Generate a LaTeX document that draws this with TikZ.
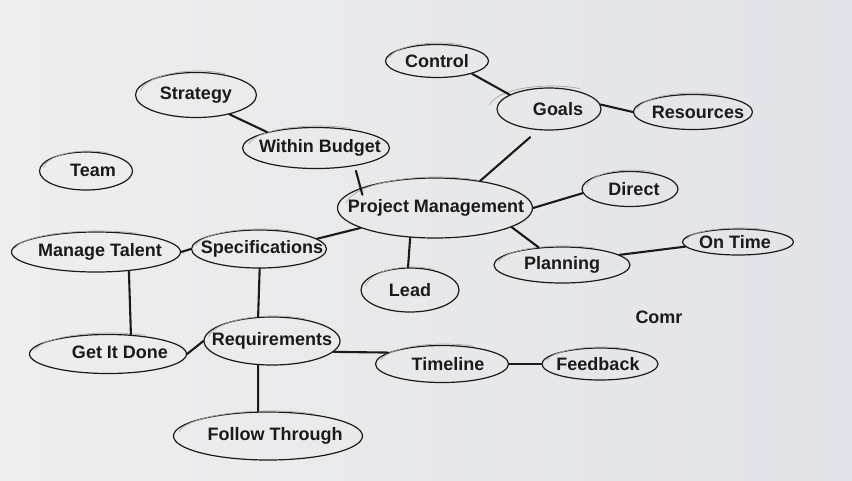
\documentclass[tikz,border=0pt]{standalone}
\usepackage{fontspec}
\setmainfont{Liberation Sans}
\usetikzlibrary{shapes.geometric,calc}
\definecolor{ink}{HTML}{1A1A1A}
\definecolor{ghostc}{HTML}{A8A8A8}
\definecolor{bgl}{HTML}{EEEEEE}
\definecolor{bgm}{HTML}{F8F8F8}
\definecolor{bgr}{HTML}{E2E3E8}
\newcommand\ntxt[3]{\raisebox{#3}{\makebox[0pt]{\hspace*{#2}#1}}}
\newcommand\ghostarc[3]{\draw[ghost] ($(#1.center)+(2,-1)+(-172:#2 and #3)$) arc[start angle=-172,end angle=-62,x radius=#2,y radius=#3];}
\begin{document}
\begin{tikzpicture}[x=1pt,y=-1pt,
  bub/.style={ellipse,draw=ink,line width=1.2pt,inner sep=0pt,font=\fontsize{18}{20}\selectfont\bfseries,text=ink},
  word/.style={inner sep=0pt,font=\fontsize{18}{20}\selectfont\bfseries,text=ink},
  link/.style={draw=ink,line width=2.1pt,line cap=round},
  ghost/.style={draw=ghostc,line width=0.7pt}]
\shade[left color=bgl,middle color=bgm,right color=bgr] (0,0) rectangle (852,480);
\useasboundingbox (0,0) rectangle (852,480);

\node[bub,minimum width=103pt,minimum height=33pt] (ctrl) at (437,61) {\ntxt{Control}{0pt}{0pt}};
\node[bub,minimum width=104pt,minimum height=42pt] (goals) at (549,109) {\ntxt{Goals}{18pt}{1pt}};
\node[bub,minimum width=119pt,minimum height=35pt] (res) at (693,112) {\ntxt{Resources}{10pt}{0pt}};
\node[bub,minimum width=121pt,minimum height=45pt] (strat) at (196,95) {\ntxt{Strategy}{0pt}{-4pt}};
\node[bub,minimum width=147pt,minimum height=41pt] (wb) at (316,148) {\ntxt{Within Budget}{8pt}{3pt}};
\node[bub,minimum width=93pt,minimum height=38pt] (team) at (86,171) {\ntxt{Team}{14pt}{1pt}};
\node[bub,minimum width=195pt,minimum height=60pt] (pm) at (435,208) {\ntxt{Project Management}{2pt}{2pt}};
\node[bub,minimum width=96pt,minimum height=35pt] (direct) at (630,189) {\ntxt{Direct}{8pt}{0pt}};
\node[bub,minimum width=111pt,minimum height=26pt] (ontime) at (738,242) {\ntxt{On Time}{-6pt}{0pt}};
\node[bub,minimum width=169pt,minimum height=40pt] (mt) at (96,252) {\ntxt{Manage Talent}{8pt}{0pt}};
\node[bub,minimum width=135pt,minimum height=38pt] (specs) at (259,249) {\ntxt{Specifications}{6pt}{1pt}};
\node[bub,minimum width=136pt,minimum height=36pt] (plan) at (562,265) {\ntxt{Planning}{0pt}{0pt}};
\node[bub,minimum width=98pt,minimum height=44pt] (lead) at (410,290) {\ntxt{Lead}{0pt}{-3pt}};
\node[word] (comr) at (659,317) {Comr};
\node[bub,minimum width=157pt,minimum height=39pt] (gid) at (108,354) {\ntxt{Get It Done}{24pt}{4pt}};
\node[bub,minimum width=136pt,minimum height=48pt] (req) at (272,341) {\ntxt{Requirements}{0pt}{0pt}};
\node[bub,minimum width=133pt,minimum height=37pt] (time) at (442,364) {\ntxt{Timeline}{12pt}{0pt}};
\node[bub,minimum width=116pt,minimum height=32pt] (fb) at (600,364) {\ntxt{Feedback}{-4pt}{0pt}};
\node[bub,minimum width=189pt,minimum height=48pt] (ft) at (268,436) {\ntxt{Follow Through}{14pt}{0pt}};

\ghostarc{ctrl}{50}{17}
\ghostarc{goals}{62}{22}
\ghostarc{res}{58}{18}
\ghostarc{strat}{58}{23}
\ghostarc{wb}{70}{21}
\ghostarc{team}{45}{19}
\ghostarc{pm}{92}{30}
\ghostarc{direct}{46}{18}
\ghostarc{ontime}{54}{13}
\ghostarc{mt}{84}{20}
\ghostarc{specs}{66}{19}
\ghostarc{plan}{66}{18}
\ghostarc{lead}{47}{22}
\ghostarc{gid}{76}{20}
\ghostarc{req}{66}{24}
\ghostarc{time}{64}{19}
\ghostarc{fb}{56}{16}
\ghostarc{ft}{92}{24}

\draw[link] (ctrl.-20) -- (goals.160);
\draw[link] (goals.5) -- (res.180);
\draw[link] ([yshift=-8pt]goals.227) -- (pm.31);
\draw[link] (strat.-30) -- (wb.162);
\draw[link,shorten <=5pt,shorten >=-7pt] (wb.-25) -- (pm.165);
\draw[link] (pm.0) -- (direct.185);
\draw[link] (pm.-14) -- (plan.143);
\draw[link] (pm.-130) -- (lead.95);
\draw[link] (pm.195) -- (specs.10);
\draw[link] (plan.10) -- (ontime.185);
\draw[link] (mt.0) -- (specs.180);
\draw[link] (mt.-30) -- (gid.40);
\draw[link] (specs.-88) -- (req.120);
\draw[link] (gid.0) -- (req.180);
\draw[link] (req.-10) -- (time.168);
\draw[link] (time.0) -- (fb.180);
\draw[link] (req.-120) -- (ft.112);
\end{tikzpicture}
\end{document}
